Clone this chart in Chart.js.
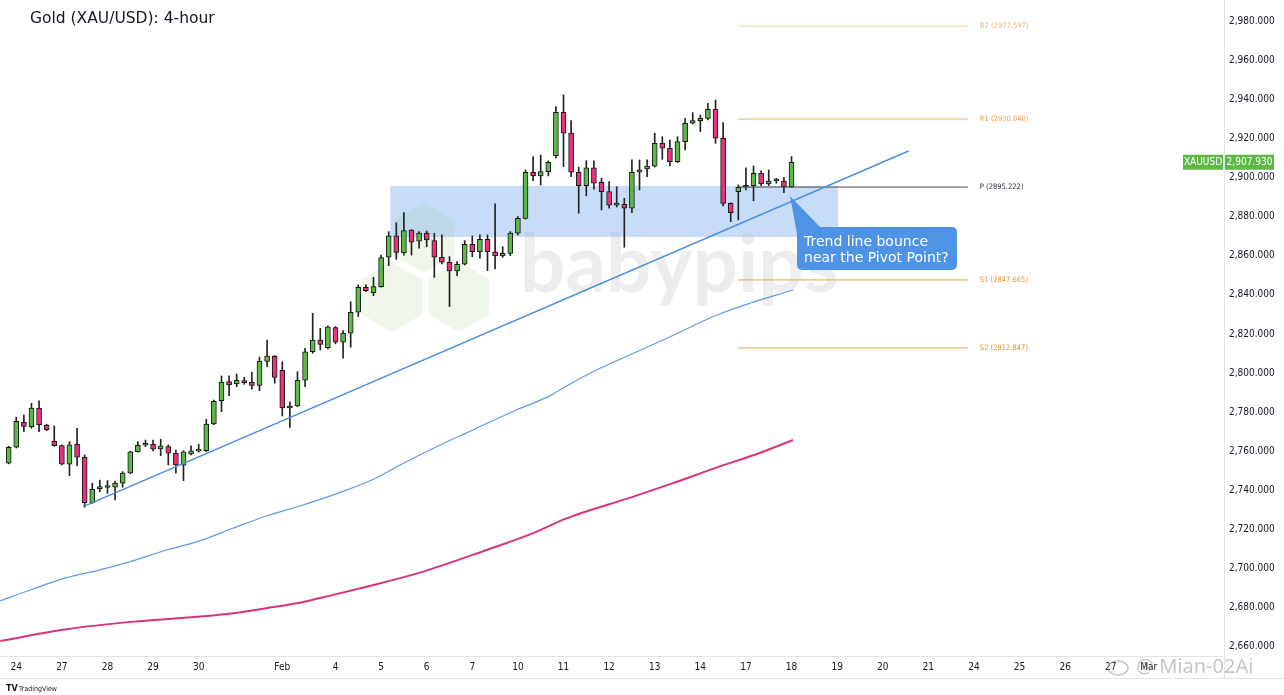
<!DOCTYPE html>
<html>
<head>
<meta charset="utf-8">
<title>Gold (XAU/USD): 4-hour</title>
<script src="https://cdn.jsdelivr.net/npm/chart.js@4.4.1/dist/chart.umd.min.js"></script>
<style>
  html, body { margin: 0; padding: 0; background: #fff; }
  #wrap { width: 1284px; height: 695px; position: relative; }
</style>
</head>
<body>
<div id="wrap"><canvas id="goldChart"></canvas></div>
<script>
'use strict';

// 4-hour bars, bar 0 = first visible candle (Jan 24)
const opens = [
  2753.8, 2762.0, 2774.8, 2772.5, 2782.0, 2773.3, 2765.1, 2762.8, 2753.3, 2763.5,
  2756.9, 2733.6, 2740.8, 2741.4, 2741.5, 2743.6, 2748.7, 2759.7, 2763.0, 2763.5,
  2761.1, 2762.3, 2758.9, 2752.8, 2758.6, 2760.0, 2760.2, 2773.9, 2785.8, 2795.6,
  2794.4, 2795.8, 2795.3, 2793.7, 2806.0, 2808.7, 2801.4, 2782.1, 2783.1, 2796.4,
  2810.9, 2816.9, 2813.0, 2823.3, 2815.8, 2820.4, 2831.1, 2843.9, 2841.1, 2844.2,
  2859.3, 2870.2, 2861.6, 2873.2, 2867.5, 2871.6, 2867.8, 2859.3, 2856.7, 2852.3,
  2855.7, 2865.9, 2862.1, 2868.5, 2862.1, 2859.9, 2861.3, 2871.6, 2879.2, 2902.8,
  2900.9, 2903.1, 2911.3, 2933.5, 2922.8, 2902.8, 2895.9, 2905.1, 2897.7, 2892.9,
  2886.0, 2886.4, 2884.4, 2902.8, 2904.5, 2905.9, 2917.6, 2915.1, 2908.2, 2918.5,
  2927.9, 2929.2, 2930.4, 2935.0, 2920.2, 2886.9, 2892.9, 2895.1, 2895.9, 2902.3,
  2896.8, 2898.3, 2898.3, 2895.4
];
const highs = [
  2762.5, 2777.4, 2778.5, 2784.5, 2785.8, 2773.8, 2772.9, 2763.2, 2764.9, 2771.7,
  2758.0, 2743.6, 2745.2, 2744.9, 2744.7, 2749.5, 2760.0, 2764.9, 2765.7, 2765.7,
  2766.1, 2763.2, 2760.6, 2760.2, 2762.7, 2763.5, 2776.3, 2786.2, 2798.5, 2798.5,
  2799.5, 2797.8, 2800.5, 2808.1, 2816.9, 2809.0, 2805.8, 2785.3, 2800.7, 2812.7,
  2830.6, 2822.9, 2824.1, 2823.8, 2821.7, 2836.5, 2845.1, 2845.1, 2849.0, 2860.4,
  2872.4, 2877.0, 2882.1, 2873.4, 2872.4, 2872.7, 2871.6, 2870.7, 2859.6, 2857.0,
  2867.8, 2870.2, 2870.7, 2870.7, 2886.6, 2864.7, 2872.4, 2880.1, 2904.0, 2910.8,
  2911.6, 2908.6, 2936.4, 2942.4, 2929.2, 2905.4, 2908.7, 2908.6, 2899.7, 2898.0,
  2895.4, 2889.5, 2909.1, 2909.1, 2909.1, 2922.8, 2921.0, 2919.3, 2921.0, 2930.4,
  2933.3, 2932.1, 2938.1, 2939.8, 2928.2, 2887.2, 2896.3, 2905.1, 2906.0, 2903.5,
  2904.0, 2899.7, 2900.2, 2910.8
];
const lows = [
  2753.5, 2761.6, 2770.0, 2771.7, 2770.0, 2770.5, 2762.5, 2753.0, 2747.4, 2752.6,
  2731.3, 2733.2, 2739.3, 2738.4, 2735.0, 2741.5, 2748.5, 2759.5, 2762.3, 2760.1,
  2757.7, 2752.9, 2748.7, 2744.9, 2758.0, 2759.5, 2759.8, 2773.5, 2780.2, 2788.4,
  2793.0, 2794.2, 2791.7, 2791.0, 2803.3, 2794.8, 2778.0, 2772.2, 2782.8, 2793.0,
  2810.1, 2811.8, 2812.3, 2814.9, 2807.6, 2813.2, 2828.9, 2841.7, 2839.6, 2843.9,
  2855.0, 2858.2, 2860.4, 2860.4, 2863.9, 2864.7, 2849.0, 2855.8, 2834.0, 2849.9,
  2855.3, 2859.6, 2858.8, 2852.4, 2853.3, 2859.3, 2860.1, 2870.7, 2878.8, 2898.5,
  2896.3, 2900.9, 2910.0, 2905.7, 2900.5, 2881.8, 2890.7, 2894.2, 2883.5, 2884.4,
  2885.0, 2864.4, 2882.1, 2893.7, 2900.5, 2905.4, 2909.4, 2906.0, 2907.7, 2914.2,
  2927.5, 2923.6, 2929.6, 2917.6, 2885.5, 2877.5, 2878.4, 2893.7, 2888.2, 2895.9,
  2895.9, 2897.2, 2892.3, 2895.1
];
const closes = [
  2762.0, 2775.3, 2772.7, 2782.0, 2773.4, 2770.8, 2762.8, 2753.3, 2763.2, 2756.9,
  2733.6, 2740.5, 2741.8, 2741.7, 2743.6, 2748.7, 2759.7, 2763.0, 2763.4, 2761.0,
  2762.7, 2758.9, 2752.9, 2759.7, 2760.1, 2760.6, 2773.9, 2785.5, 2795.3, 2793.9,
  2796.3, 2795.1, 2793.7, 2806.0, 2808.7, 2797.8, 2782.1, 2783.1, 2796.3, 2810.8,
  2816.9, 2814.7, 2823.6, 2815.8, 2820.4, 2831.1, 2843.9, 2842.2, 2844.2, 2859.1,
  2870.2, 2861.8, 2872.9, 2867.0, 2871.6, 2868.1, 2859.3, 2856.7, 2852.3, 2855.7,
  2865.9, 2862.1, 2868.5, 2862.1, 2859.9, 2861.3, 2871.6, 2879.2, 2902.8, 2900.9,
  2903.1, 2907.9, 2933.5, 2922.8, 2902.8, 2895.9, 2905.1, 2897.2, 2892.9, 2886.0,
  2886.2, 2884.4, 2902.8, 2904.0, 2905.9, 2917.6, 2915.1, 2908.2, 2918.5, 2927.9,
  2929.2, 2930.4, 2935.0, 2920.2, 2886.9, 2882.1, 2895.1, 2896.1, 2902.3, 2896.8,
  2898.3, 2898.5, 2895.4, 2907.93
];

// time axis: bar index where each day label sits
const dayTicks = [1, 7, 13, 19, 25, 36, 43, 49, 55, 61, 67, 73, 79, 85, 91, 97, 103, 109, 115, 121, 127, 133, 139, 145, 150];
const dayLabels = ['24', '27', '28', '29', '30', 'Feb', '4', '5', '6', '7', '10', '11', '12', '13', '14', '17', '18', '19', '20', '21', '24', '25', '26', '27', 'Mar'];

const priceTicks = [2660, 2680, 2700, 2720, 2740, 2760, 2780, 2800, 2820, 2840, 2860, 2880, 2900, 2920, 2940, 2960, 2980];

// moving averages (bar index / price)
const blueMaBars = [-1.1, 3.2, 7.6, 12.0, 15.5, 20.8, 25.2, 29.5, 33.9, 38.3, 42.7, 48.0, 51.5, 55.9, 60.3, 66.8, 71.2, 73.4, 77.8, 82.2, 86.6, 93.2, 97.5, 103.2];
const blueMaVals = [2683.3, 2689.4, 2695.2, 2699.2, 2702.9, 2709.4, 2714.2, 2720.5, 2726.8, 2731.9, 2737.6, 2745.6, 2752.9, 2761.5, 2769.5, 2781.1, 2788.3, 2793.4, 2802.4, 2810.1, 2817.8, 2829.7, 2835.7, 2842.5];
const redMaBars = [-1.1, 7.6, 16.4, 25.2, 29.5, 33.9, 38.3, 42.7, 47.1, 54.1, 62.9, 69.0, 73.4, 82.2, 87.4, 93.2, 98.9, 103.2];
const redMaVals = [2662.8, 2668.8, 2672.7, 2675.3, 2677.0, 2679.6, 2682.4, 2686.4, 2690.6, 2697.8, 2709.4, 2718.0, 2725.6, 2736.7, 2743.6, 2751.7, 2759.2, 2765.7];

// drawn objects
const trendBars = [9.8, 118.4];
const trendVals = [2731.6, 2913.7];
const zoneBars = [50.2, 109.1];
const zoneVals = [2869.7, 2895.8];
const pivotNames = ['R2', 'R1', 'P', 'S1', 'S2'];
const pivotVals = [2977.597, 2930.040, 2895.222, 2847.665, 2812.847];
const pivotBars = [96, 126.2];
const pivotColors = ['#f9cf9f', '#f2b066', '#4a4a4a', '#f0a040', '#f0a040'];
const pivotTextColors = ['#eeb077', '#e99f4e', '#2a2e39', '#e3923c', '#e3923c'];
const noteAt = [102.8, 2890.7];
const noteLines = ['Trend line bounce', 'near the Pivot Point?'];
const symbol = 'XAUUSD';

const UP = '#5db847';
const DOWN = '#e8337a';

const fmt = v => v.toLocaleString('en-US', { minimumFractionDigits: 3, maximumFractionDigits: 3 });

const bars = opens.map((o, i) => i);

const datasets = [
  {
    type: 'line',
    data: blueMaBars.map((b, i) => ({ x: b, y: blueMaVals[i] })),
    borderColor: '#5b9be8',
    borderWidth: 1.2,
    pointRadius: 0,
    cubicInterpolationMode: 'monotone',
    order: 4
  },
  {
    type: 'line',
    data: redMaBars.map((b, i) => ({ x: b, y: redMaVals[i] })),
    borderColor: '#d8337c',
    borderWidth: 2,
    pointRadius: 0,
    cubicInterpolationMode: 'monotone',
    order: 4
  },
  {
    type: 'bar',
    data: bars.map(i => ({ x: i, y: [lows[i], highs[i]] })),
    backgroundColor: '#222',
    barThickness: 1,
    grouped: false,
    order: 3
  },
  {
    type: 'bar',
    data: bars.map(i => ({ x: i, y: [opens[i], closes[i]] })),
    backgroundColor: bars.map(i => closes[i] >= opens[i] ? UP : DOWN),
    borderColor: '#151515',
    borderWidth: 1,
    borderSkipped: false,
    minBarLength: 2,
    barThickness: 5,
    grouped: false,
    order: 2
  },
  {
    type: 'line',
    data: trendBars.map((b, i) => ({ x: b, y: trendVals[i] })),
    borderColor: '#4a8fe2',
    borderWidth: 1.5,
    pointRadius: 0,
    order: 1
  }
];

pivotVals.forEach((v, k) => {
  datasets.push({
    type: 'line',
    data: pivotBars.map(b => ({ x: b, y: v })),
    borderColor: pivotColors[k],
    borderWidth: 1,
    pointRadius: 0,
    order: 1
  });
});

function hexagon(ctx, cx, cy, r) {
  ctx.beginPath();
  for (let k = 0; k < 6; k++) {
    const a = Math.PI / 180 * (60 * k - 90);
    const px = cx + r * Math.cos(a), py = cy + r * Math.sin(a);
    if (k === 0) ctx.moveTo(px, py); else ctx.lineTo(px, py);
  }
  ctx.closePath();
  ctx.fill();
}

const overlay = {
  id: 'overlay',
  beforeDatasetsDraw(chart) {
    const { ctx, scales: { x, y } } = chart;
    ctx.save();
    // babypips watermark
    ctx.fillStyle = 'rgba(120,190,90,0.13)';
    hexagon(ctx, 424, 238, 35);
    hexagon(ctx, 392, 297, 35);
    hexagon(ctx, 459, 297, 35);
    ctx.fillStyle = 'rgba(60,60,80,0.09)';
    ctx.font = 'bold 80px Lato';
    ctx.textBaseline = 'alphabetic';
    ctx.fillText('babypips', 520, 292);
    // support zone
    const x0 = x.getPixelForValue(zoneBars[0]), x1 = x.getPixelForValue(zoneBars[1]);
    const y0 = y.getPixelForValue(zoneVals[1]), y1 = y.getPixelForValue(zoneVals[0]);
    ctx.fillStyle = 'rgba(100,160,232,0.36)';
    ctx.fillRect(x0, y0, x1 - x0, y1 - y0);
    ctx.restore();
  },
  afterDatasetsDraw(chart) {
    const { ctx, chartArea: area, scales: { x, y } } = chart;
    ctx.save();
    // pivot labels
    ctx.font = '7.5px "DejaVu Sans Condensed"';
    ctx.textBaseline = 'middle';
    const lx = x.getPixelForValue(pivotBars[1]) + 12;
    pivotNames.forEach((n, k) => {
      ctx.fillStyle = pivotTextColors[k];
      ctx.fillText(n + ' (' + pivotVals[k].toFixed(3) + ')', lx, y.getPixelForValue(pivotVals[k]));
    });
    // callout
    const tx = x.getPixelForValue(noteAt[0]), ty = y.getPixelForValue(noteAt[1]);
    const bx = tx + 7, by = ty + 31, bw = 160, bh = 43;
    ctx.fillStyle = '#4f93e6';
    ctx.beginPath();
    ctx.moveTo(tx, ty);
    ctx.lineTo(bx + 24, by + 1);
    ctx.lineTo(bx + 1, by + 12);
    ctx.closePath();
    ctx.fill();
    ctx.beginPath();
    ctx.roundRect(bx, by, bw, bh, 5);
    ctx.fill();
    ctx.fillStyle = '#fff';
    ctx.font = '14px "DejaVu Sans"';
    ctx.textBaseline = 'alphabetic';
    ctx.fillText(noteLines[0], bx + 7, by + 19);
    ctx.fillText(noteLines[1], bx + 7, by + 35);
    // last price tag
    const last = closes[closes.length - 1];
    const py = y.getPixelForValue(last);
    ctx.fillStyle = UP;
    ctx.fillRect(area.right - 41, py - 7.5, 40, 15);
    ctx.fillRect(area.right + 1, py - 7.5, 49, 15);
    ctx.fillStyle = '#fff';
    ctx.font = '10px "DejaVu Sans Condensed"';
    ctx.textBaseline = 'middle';
    ctx.textAlign = 'center';
    ctx.fillText(symbol, area.right - 21, py + 0.5);
    ctx.fillText(fmt(last), area.right + 25.5, py + 0.5);
    ctx.restore();
  },
  afterDraw(chart) {
    const { ctx, chartArea: area } = chart;
    ctx.save();
    // title
    ctx.fillStyle = '#131722';
    ctx.font = '15.5px "DejaVu Sans"';
    ctx.textBaseline = 'alphabetic';
    ctx.fillText('Gold (XAU/USD): 4-hour', 30, 23);
    // time scale bottom edge
    ctx.strokeStyle = '#e0e3eb';
    ctx.lineWidth = 1;
    ctx.beginPath();
    ctx.moveTo(0, 678.5);
    ctx.lineTo(1284, 678.5);
    ctx.moveTo(area.right + 0.5, area.bottom);
    ctx.lineTo(area.right + 0.5, 678);
    ctx.stroke();
    // footer
    ctx.fillStyle = '#131722';
    ctx.font = 'bold 8px "DejaVu Sans"';
    ctx.fillText('TV', 6, 691);
    ctx.font = '7px "DejaVu Sans Condensed"';
    ctx.fillText('TradingView', 19, 691);
    // weibo watermark
    ctx.fillStyle = 'rgba(150,150,150,0.55)';
    ctx.font = '20px "Noto Sans"';
    ctx.textBaseline = 'middle';
    ctx.fillText('@ Mian-02Ai', 1136, 667);
    ctx.strokeStyle = 'rgba(150,150,150,0.55)';
    ctx.lineWidth = 1.5;
    ctx.beginPath();
    ctx.ellipse(1118, 668, 10, 7, 0, 0, Math.PI * 2);
    ctx.stroke();
    ctx.restore();
  }
};

const ctx = document.getElementById('goldChart');

new Chart(ctx, {
  data: { datasets: datasets },
  options: {
    responsive: true,
    maintainAspectRatio: false,
    animation: false,
    layout: { padding: { left: 0, right: 0, top: 0, bottom: 17 } },
    plugins: {
      legend: { display: false },
      tooltip: { enabled: false }
    },
    scales: {
      x: {
        type: 'linear',
        position: 'bottom',
        min: -1.14,
        max: 159.9,
        offset: false,
        grid: { display: false, drawTicks: false },
        border: { display: true, color: '#e0e3eb' },
        ticks: {
          color: '#131722',
          font: { family: 'DejaVu Sans Condensed', size: 10 },
          autoSkip: false,
          maxRotation: 0,
          padding: 5,
          callback: (v, i) => dayLabels[i]
        },
        afterBuildTicks: s => { s.ticks = dayTicks.map(v => ({ value: v })); },
        afterFit: s => { s.height = 22; s.paddingLeft = 0; s.paddingRight = 0; }
      },
      y: {
        type: 'linear',
        position: 'right',
        min: 2655.1,
        max: 2991.0,
        grid: { display: false, drawTicks: false },
        border: { display: true, color: '#e0e3eb' },
        ticks: {
          color: '#131722',
          font: { family: 'DejaVu Sans Condensed', size: 10 },
          padding: 5,
          callback: v => fmt(v)
        },
        afterBuildTicks: s => { s.ticks = priceTicks.map(v => ({ value: v })); },
        afterFit: s => { s.width = 60; s.paddingTop = 0; s.paddingBottom = 0; }
      }
    }
  },
  plugins: [overlay]
});
</script>
</body>
</html>
